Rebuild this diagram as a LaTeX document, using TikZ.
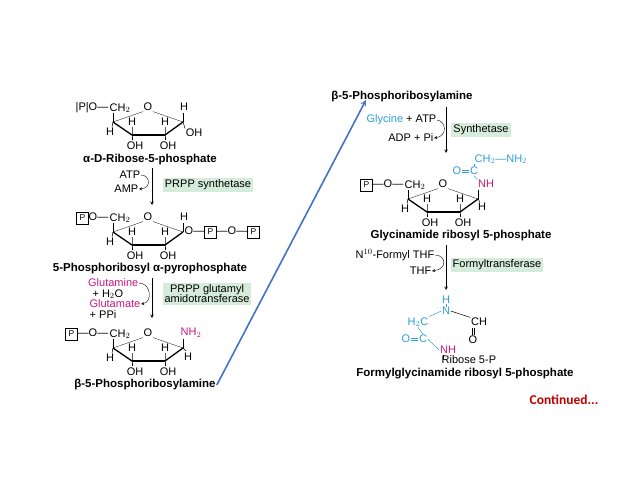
\documentclass[tikz,border=0pt]{standalone}
\usepackage{fontspec}
\setmainfont{Liberation Sans}
\newfontfamily\carlitofont{Carlito}
\definecolor{mag}{HTML}{C8177E}
\definecolor{cy}{HTML}{2E9FD6}
\definecolor{enz}{HTML}{D6ECDA}
\definecolor{bl}{HTML}{4472C4}
\definecolor{rd}{HTML}{C00000}
\tikzset{t/.style={inner sep=0.5pt,font=\fontsize{11}{11}\selectfont},
 captxt/.style={inner sep=1pt,font=\fontsize{11.5}{12}\selectfont\bfseries},
 box/.style={fill=enz,inner sep=2pt,font=\fontsize{11}{11}\selectfont,align=center},
 bond/.style={line width=0.5pt},
 rxn/.style={line width=0.6pt,-stealth},
 cur/.style={line width=0.4pt,-stealth}}
\newcommand{\dbl}[3]{\draw[bond,#1] ([yshift=1.1pt]#2) -- ([yshift=1.1pt]#3); \draw[bond,#1] ([yshift=-1.1pt]#2) -- ([yshift=-1.1pt]#3);}
\newcommand{\pbox}{\fbox{\fontsize{8.5}{8.5}\selectfont P}}
\newcommand{\ribring}[3]{%
\begin{scope}[shift={(#2,#3)}]
\node[t] (#1O) at (0,0) {O};
\node[t] (#1C5) at (-28,1) {CH$_2$};
\coordinate (#1c4) at (-35,15); \coordinate (#1c3) at (-16,28);
\coordinate (#1c2) at (17,28); \coordinate (#1c1) at (35,15);
\draw[bond] (-35,6) -- (#1c4);
\draw[line width=0.3pt] (#1c4) -- (#1O.south west);
\draw[line width=0.3pt] (#1c1) -- (#1O.south east);
\draw[line width=1.3pt,line join=round] (#1c4) -- (#1c3) -- (#1c2) -- (#1c1);
\draw[line width=2pt] (#1c3) -- (#1c2);
\node[t] (#1H4) at (-38,25) {H}; \draw[bond] (#1c4) -- (-36,20);
\node[t] (#1H3) at (-16,15) {H}; \draw[bond] (-16,20) -- (#1c3) -- (-16,33);
\node[t] (#1H2) at (17,15) {H}; \draw[bond] (17,20) -- (#1c2) -- (17,33);
\node[t] (#1OH3) at (-13,39) {OH}; \node[t] (#1OH2) at (20,39) {OH};
\draw[bond] (#1c1) -- (35,6);
\end{scope}}
\begin{document}
\begin{tikzpicture}[x=1pt,y=-1pt]
\useasboundingbox (0,0) rectangle (638,493);
% ring 1
\ribring{a}{148}{107}
\node[t,anchor=east] (aP) at (aC5.west) {|P|O---};
\node[t] (aH1) at (184,107) {H};
\node[t] (aOH1) at (194,133) {OH}; \draw[bond] (aOH1.north west) -- (ac1);
\node[captxt] (aN) at (150,160) {α-D-Ribose-5-phosphate};
% step 1
\coordinate (s1a) at (152,168); \coordinate (s1b) at (152,205);
\draw[rxn] (s1a) -- (s1b);
\node[t,anchor=east] (atp) at (141,175) {ATP};
\node[t,anchor=east] (amp) at (139,189) {AMP};
\draw[cur] (atp.east) .. controls (150,175) and (152,188) .. (amp.east);
\node[box] (e1) at (208,185) {PRPP synthetase};
% ring 2
\ribring{b}{148}{217}
\node[t,anchor=east] (bP) at (bC5.west) {\pbox O---};
\node[t] (bH1) at (184,217) {H};
\node[t,anchor=west] (bPP) at (184,232) {O---\pbox---O---\pbox};
\node[captxt] (bN) at (150,269) {5-Phosphoribosyl α-pyrophosphate};
% step 2
\coordinate (s2a) at (152,278); \coordinate (s2b) at (152,318);
\draw[rxn] (s2a) -- (s2b);
\node[t,anchor=east,text=mag] (gln) at (139,283) {Glutamine};
\node[t,anchor=east] (h2o) at (124,294) {+ H$_2$O};
\node[t,anchor=east,text=mag] (glu) at (141,304) {Glutamate};
\node[t,anchor=east] (ppi) at (117,315) {+ PPi};
\draw[cur] (gln.east) .. controls (151,283) and (153,302) .. (glu.east);
\node[box] (e2) at (207,294) {PRPP glutamyl\\[-1pt]amidotransferase};
% ring 3
\ribring{c}{148}{333}
\node[t,anchor=east] (cP) at (cC5.west) {\pbox---O---};
\node[t,text=mag] (cN1) at (191,333) {NH$_2$};
\node[t] (cH1) at (188,357) {H}; \draw[bond] (cc1) -- (186,351);
\node[captxt] (cN) at (145,385) {β-5-Phosphoribosylamine};
% blue arrow
\draw[bl,line width=1.6pt,-stealth] (cN.east) -- (366,100);
% right column
\node[captxt] (dT) at (402,97) {β-5-Phosphoribosylamine};
\coordinate (s3a) at (446,107); \coordinate (s3b) at (446,153);
\draw[rxn] (s3a) -- (s3b);
\node[t,anchor=east] (gly) at (437,120) {\textcolor{cy}{Glycine} + ATP};
\node[t,anchor=east] (adp) at (434,138) {ADP + Pi};
\draw[cur] (gly.east) .. controls (446,121) and (448,136) .. (adp.east);
\node[box] (e3) at (481,130) {Synthetase};
% ring 4
\ribring{d}{443}{184}
\node[t,anchor=east] (dP) at (dC5.west) {\pbox---O---};
\node[t,text=mag] (dNH) at (486,184) {NH};
\node[t] (dH1) at (482,207) {H}; \draw[bond] (dc1) -- (480,202);
\node[t,text=cy] (dC) at (474,171) {C};
\node[t,text=cy,anchor=east] (dO) at (462,171) {O};
\dbl{cy}{dO.east}{dC.west}
\draw[cy,bond] (dC.south) -- (dNH.north west);
\node[t,text=cy,anchor=west] (dCH) at (474,159) {CH$_2$---NH$_2$};
\draw[cy,bond] (dC.north) -- (dCH.south west);
\node[captxt] (dN) at (461,236) {Glycinamide ribosyl 5-phosphate};
% step 4
\coordinate (s4a) at (446,245); \coordinate (s4b) at (446,290);
\draw[rxn] (s4a) -- (s4b);
\node[t,anchor=east] (fthf) at (435,255) {N$^{10}$-Formyl THF};
\node[t,anchor=east] (thf) at (432,271) {THF};
\draw[cur] (fthf.east) .. controls (446,255) and (448,269) .. (thf.east);
\node[box] (e4) at (497,265) {Formyltransferase};
% formylglycinamide
\node[t,text=cy] (fH) at (446,300) {H};
\node[t,text=cy] (fN) at (446,311) {N};
\draw[cy,bond] (fH) -- (fN);
\node[t,text=cy] (fC2) at (418,322) {H$_2$C};
\node[t] (fCH) at (479,322) {CH};
\node[t] (fO2) at (473,340) {O};
\node[t,text=cy] (fC) at (423,339) {C};
\node[t,text=cy,anchor=east] (fO) at (411,339) {O};
\node[t,text=mag] (fNH) at (448,350) {NH};
\node[t,anchor=north west] (fR) at (441,355) {Ribose 5-P};
\draw[cy,bond] (fC2.north east) -- (fN.west);
\draw[bond] (fN.east) -- (fCH.north west);
\draw[bond] (471.9,328) -- (471.9,334.5); \draw[bond] (474.1,328) -- (474.1,334.5);
\draw[cy,bond] (fC2.south) -- (fC.north);
\dbl{cy}{fO.east}{fC.west}
\draw[cy,bond] (fC.east) -- (fNH.west);
\draw[bond] (443,355) -- (443,359);
\node[captxt] (fN2) at (465,374) {Formylglycinamide ribosyl 5-phosphate};
\node[font=\carlitofont\fontsize{13.5}{13.5}\selectfont\bfseries,text=rd] (cont) at (564,400) {Continued...};
\end{tikzpicture}
\end{document}
